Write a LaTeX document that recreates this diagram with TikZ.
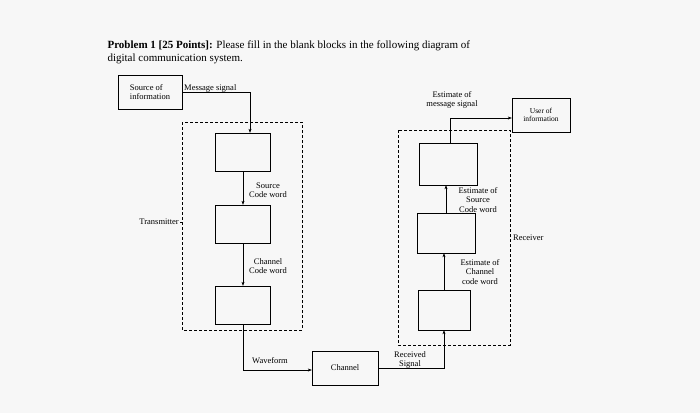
\documentclass[tikz,border=0pt]{standalone}
\usepackage{fontspec}
\setmainfont{Liberation Serif}
\usetikzlibrary{arrows.meta}
\begin{document}
\begin{tikzpicture}[x=1pt,y=-1pt,
  blk/.style={draw,thin,minimum width=55pt,minimum height=38pt,inner sep=0pt},
  lbl/.style={font=\fontsize{8.5}{9.5}\selectfont,align=center,inner sep=1pt},
  arr/.style={-{Stealth[length=4pt]},thin},
  dashbox/.style={draw,densely dashed,thin}]
\fill[white!94!gray] (0,0) rectangle (700,413);
\node[anchor=west,font=\fontsize{11}{13}\selectfont,align=left] (title) at (104,52)
 {\textbf{Problem 1 [25 Points]:} Please fill in the blank blocks in the following diagram of\\digital communication system.};
\node[draw,thin,lbl,minimum width=64pt,minimum height=34pt,align=left] (src) at (150,92) {Source of\\information};
\node[lbl,anchor=south west] (msg) at (183,94) {Message signal};
\draw[dashbox] (182,122) rectangle (302,330);
\node[blk] (t1) at (243,152) {};
\node[blk] (t2) at (243,224) {};
\node[blk] (t3) at (243,305) {};
\coordinate (c1) at (250,92);
\draw[arr] (src.east) -- (c1) -- (c1 |- t1.north);
\draw[arr] (t1.south) -- (t2.north);
\draw[arr] (t2.south) -- (t3.north);
\node[lbl] (scw) at (268,190) {Source\\Code word};
\node[lbl] (ccw) at (268,266) {Channel\\Code word};
\node[lbl,anchor=east] (tx) at (180,222) {Transmitter};
\draw[thin] (tx.east) -- (182,222);
\node[blk,minimum width=66pt,minimum height=34pt,lbl] (ch) at (345,368) {Channel};
\coordinate (c2) at (243,370);
\draw[arr] (t3.south) -- (c2) -- (ch.west |- c2);
\node[lbl] (wf) at (270,361) {Waveform};
\draw[dashbox] (398,130) rectangle (510,345);
\node[blk,minimum width=58pt,minimum height=42pt] (r1) at (448,164) {};
\node[blk,minimum width=58pt,minimum height=40pt] (r2) at (446,233) {};
\node[blk,minimum width=52pt,minimum height=40pt] (r3) at (444,310) {};
\coordinate (c3) at (444,368);
\draw[arr] (ch.east |- c3) -- (c3) -- (r3.south);
\node[lbl] (rs) at (410,360) {Received\\Signal};
\draw[arr] (r3.north) -- (r3.north |- r2.south);
\draw[arr] (r2.north) -- (r2.north |- r1.south);
\node[lbl] (ecw) at (480,272) {Estimate of\\Channel\\code word};
\node[lbl] (esw) at (478,200) {Estimate of\\Source\\Code word};
\node[lbl] (ems) at (452,100) {Estimate of\\message signal};
\node[draw,thin,lbl,font=\fontsize{7.5}{8.5}\selectfont,minimum width=58pt,minimum height=34pt] (usr) at (541,115) {User of\\information};
\coordinate (c4) at (450,118);
\draw[arr] (r1.north -| c4) -- (c4) -- (usr.west |- c4);
\node[lbl,anchor=west] (rx) at (512,238) {Receiver};
\end{tikzpicture}
\end{document}
